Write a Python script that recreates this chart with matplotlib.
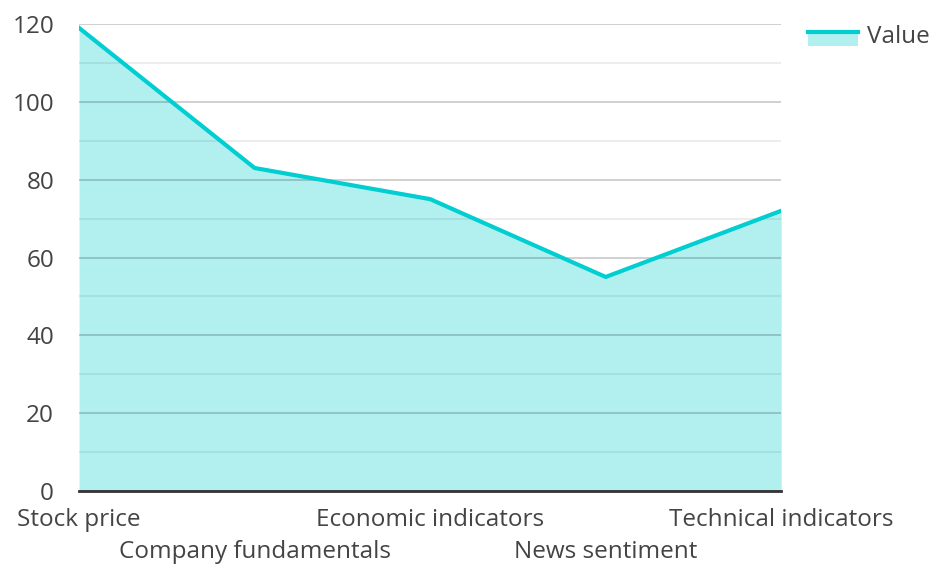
import matplotlib.pyplot as plt
from matplotlib.legend_handler import HandlerBase
from matplotlib.patches import Rectangle
from matplotlib.lines import Line2D
from matplotlib.ticker import MultipleLocator

plt.rcParams['font.family'] = ['Open Sans', 'DejaVu Sans']

categories = ['Stock price', 'Company fundamentals', 'Economic indicators',
              'News sentiment', 'Technical indicators']
values = [119, 83, 75, 55, 72]
y_ticks = [0, 20, 40, 60, 80, 100, 120]

line_color = '#00CED1'
fill_color = '#b2f0f0'


class AreaHandler(HandlerBase):
    # line on top, filled strip below it, like the original legend swatch
    def create_artists(self, legend, orig_handle, xdescent, ydescent,
                       width, height, fontsize, trans):
        rect = Rectangle((-xdescent, -ydescent - height * 0.2), width, height * 0.85,
                         facecolor=fill_color, edgecolor='none', transform=trans)
        ln = Line2D([-xdescent, -xdescent + width],
                    [-ydescent + height * 0.65] * 2,
                    color=line_color, lw=3, transform=trans)
        return [rect, ln]


fig = plt.figure(figsize=(9.3, 5.66), dpi=100)
ax = fig.add_axes([0.085, 0.1325, 0.755, 0.8251])

x = range(len(categories))
ax.fill_between(x, values, 0, color=fill_color, lw=0, zorder=1)
ax.plot(x, values, color=line_color, lw=3, zorder=3)

ax.set_xlim(0, len(categories) - 1)
ax.set_ylim(0, 120)
ax.set_yticks(y_ticks)
ax.yaxis.set_minor_locator(MultipleLocator(10))
ax.grid(axis='y', which='major', color='black', alpha=0.2, lw=1.3, zorder=2)
ax.grid(axis='y', which='minor', color='black', alpha=0.08, lw=1.3, zorder=2)
ax.set_axisbelow(False)

ax.set_xticks(list(x))
ax.set_xticklabels(categories)
ax.tick_params(axis='both', which='both', length=0, labelsize=17.5,
               labelcolor='#444444')
ax.tick_params(axis='y', pad=18)
# alternate the category labels on two rows
for i, t in enumerate(ax.xaxis.get_major_ticks()):
    t.set_pad(12 if i % 2 == 0 else 35)

for s in ['top', 'right', 'left']:
    ax.spines[s].set_visible(False)
ax.spines['bottom'].set_color('#333333')
ax.spines['bottom'].set_linewidth(2)
ax.spines['bottom'].set_zorder(4)

handle = Rectangle((0, 0), 1, 1)
ax.legend([handle], ['Value'], handler_map={Rectangle: AreaHandler()},
          loc='upper left', bbox_to_anchor=(1.0135, 1.035), frameon=False,
          fontsize=17.5, handlelength=2.05, handleheight=0.7, handletextpad=0.38,
          labelcolor='#444444', borderpad=0.2)

fig.savefig('out.png', dpi=100)
